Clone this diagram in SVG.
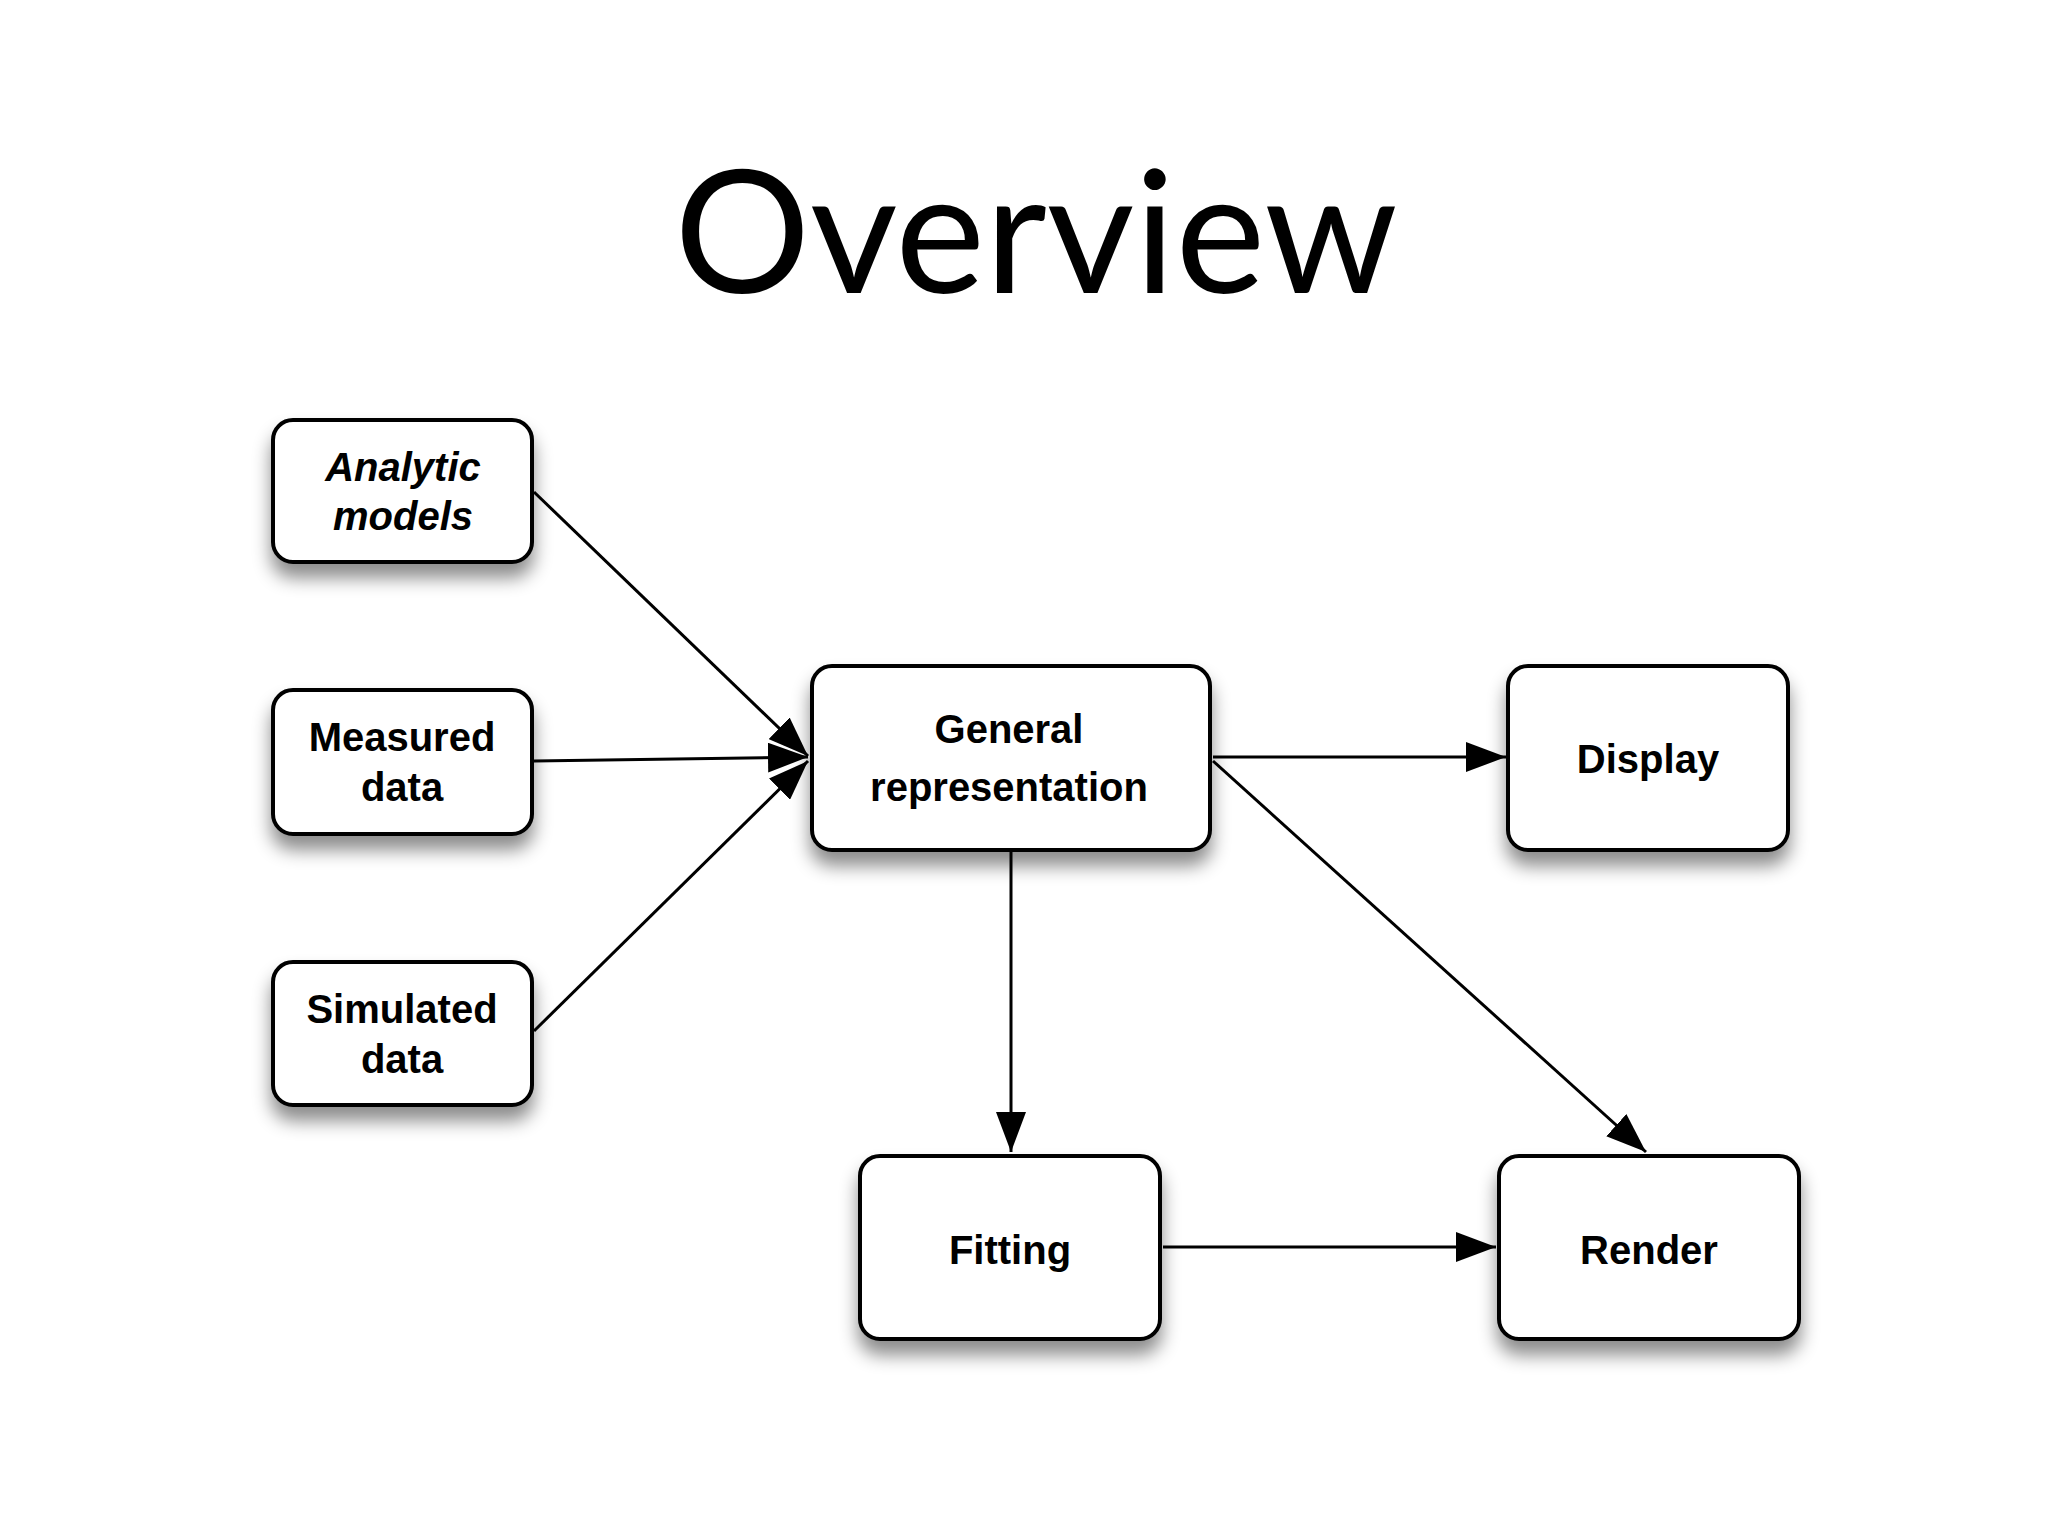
<svg xmlns="http://www.w3.org/2000/svg" width="2048" height="1536" viewBox="0 0 2048 1536">
<defs>
<filter id="sh" x="-20%" y="-20%" width="140%" height="160%"><feDropShadow dx="0" dy="14" stdDeviation="9" flood-color="#000" flood-opacity="0.45"/></filter>
<marker id="ah" markerWidth="10" markerHeight="8" refX="10" refY="4" orient="auto" markerUnits="userSpaceOnUse" viewBox="0 0 10 8"><path d="M0,0 L10,4 L0,8 z" fill="#000"/></marker>
<marker id="a" viewBox="0 0 40 30" refX="40" refY="15" markerWidth="40" markerHeight="30" orient="auto" markerUnits="userSpaceOnUse"><path d="M0,0 L40,15 L0,30 z" fill="#000"/></marker>
</defs>
<style>
.b{fill:#fff;stroke:#000;stroke-width:4;filter:url(#sh)}
.t{font-family:"Liberation Sans",Arial,sans-serif;font-weight:bold;font-size:40px;text-anchor:middle;fill:#000}
.c{stroke:#000;stroke-width:3;fill:none;marker-end:url(#a)}
</style>
<rect width="2048" height="1536" fill="#fff"/>
<text x="1036" y="293" font-family="Lato,'Open Sans',sans-serif" font-size="170" text-anchor="middle">Overview</text>
<g id="analytic"><rect class="b" x="273" y="420" width="259" height="142" rx="20"/><text class="t" font-style="italic" x="403" y="481">Analytic</text><text class="t" font-style="italic" x="403" y="530">models</text></g>
<g id="measured"><rect class="b" x="273" y="690" width="259" height="144" rx="20"/><text class="t" x="402" y="751">Measured</text><text class="t" x="402" y="801">data</text></g>
<g id="simulated"><rect class="b" x="273" y="962" width="259" height="143" rx="20"/><text class="t" x="402" y="1023">Simulated</text><text class="t" x="402" y="1073">data</text></g>
<g id="general"><rect class="b" x="812" y="666" width="398" height="184" rx="20"/><text class="t" font-size="48" x="1009" y="743">General</text><text class="t" font-size="48" x="1009" y="801">representation</text></g>
<g id="display"><rect class="b" x="1508" y="666" width="280" height="184" rx="20"/><text class="t" font-size="48" x="1648" y="773">Display</text></g>
<g id="fitting"><rect class="b" x="860" y="1156" width="300" height="183" rx="20"/><text class="t" font-size="48" x="1010" y="1264">Fitting</text></g>
<g id="render"><rect class="b" x="1499" y="1156" width="300" height="183" rx="20"/><text class="t" font-size="48" x="1649" y="1264">Render</text></g>
<g id="connectors">
<line class="c" x1="534" y1="492" x2="808" y2="756"/>
<line class="c" x1="534" y1="761" x2="808" y2="757"/>
<line class="c" x1="534" y1="1031" x2="808" y2="761"/>
<line class="c" x1="1213" y1="757" x2="1506" y2="757"/>
<line class="c" x1="1213" y1="761" x2="1646" y2="1152"/>
<line class="c" x1="1011" y1="852" x2="1011" y2="1152"/>
<line class="c" x1="1163" y1="1247" x2="1496" y2="1247"/>
</g>
</svg>
